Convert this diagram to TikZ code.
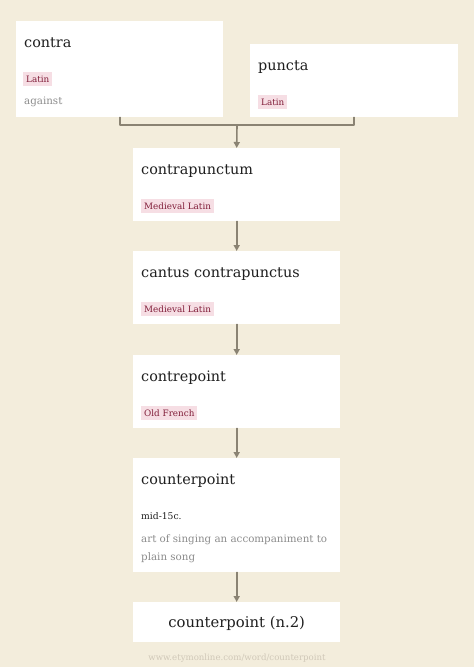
\documentclass[tikz,border=0pt]{standalone}
\usepackage{fontspec}
\setmainfont{DejaVu Serif}
\usetikzlibrary{arrows.meta}
\definecolor{bgcream}{RGB}{243,237,220}
\definecolor{tagpink}{RGB}{246,222,228}
\definecolor{tagred}{RGB}{128,28,56}
\definecolor{glossgray}{RGB}{140,140,140}
\definecolor{linkbrown}{RGB}{138,131,115}
\definecolor{urlgray}{RGB}{208,200,184}
\begin{document}
\begin{tikzpicture}[x=1pt,y=-1pt,line cap=round,line join=round,
    box/.style={fill=white,draw=none,anchor=north west,minimum width=207pt,inner sep=0pt},
    word/.style={anchor=base west,inner sep=0pt,text=black!88,font=\fontsize{14.4}{17}\selectfont},
    lang/.style={anchor=north west,fill=tagpink,text=tagred,inner xsep=3pt,inner ysep=0pt,
        text height=10pt,text depth=3.5pt,font=\fontsize{8.8}{10}\selectfont},
    gloss/.style={anchor=base west,inner sep=0pt,text=glossgray,align=left,
        font=\fontsize{10.3}{18}\selectfont},
    link/.style={linkbrown,line width=1.6pt},
    arr/.style={link,-{Triangle[width=6pt,length=6pt]}}]
    \def\tx{8}
    \def\wy{26}
    \def\ly{51}
    % background
    \fill[bgcream] (0,0) rectangle (474,667);
    \useasboundingbox (0,0) rectangle (474,667);
    % boxes
    \node[box,minimum height=96pt] (contra) at (16,21) {};
    \node[box,minimum width=208pt,minimum height=73pt] (puncta) at (250,44) {};
    \node[box,minimum height=73pt] (contrapunctum) at (133,148) {};
    \node[box,minimum height=73pt] (cantus) at (133,251) {};
    \node[box,minimum height=73pt] (contrepoint) at (133,355) {};
    \node[box,minimum height=114pt] (counterpoint) at (133,458) {};
    \node[box,minimum height=40pt] (counterpointn) at (133,602) {};
    % contra
    \node[word] (contraword) at ([shift={(\tx,\wy)}]contra.north west) {contra};
    \node[lang] (contralang) at ([shift={(7,\ly)}]contra.north west) {Latin};
    \node[gloss] (contragloss) at ([shift={(\tx,83)}]contra.north west) {against};
    % puncta
    \node[word] (punctaword) at ([shift={(\tx,\wy)}]puncta.north west) {puncta};
    \node[lang] (punctalang) at ([shift={(\tx,\ly)}]puncta.north west) {Latin};
    % contrapunctum
    \node[word] (contrapunctumword) at ([shift={(\tx,\wy)}]contrapunctum.north west) {contrapunctum};
    \node[lang] (contrapunctumlang) at ([shift={(\tx,\ly)}]contrapunctum.north west) {Medieval Latin};
    % cantus contrapunctus
    \node[word] (cantusword) at ([shift={(\tx,\wy)}]cantus.north west) {cantus contrapunctus};
    \node[lang] (cantuslang) at ([shift={(\tx,\ly)}]cantus.north west) {Medieval Latin};
    % contrepoint
    \node[word] (contrepointword) at ([shift={(\tx,\wy)}]contrepoint.north west) {contrepoint};
    \node[lang] (contrepointlang) at ([shift={(\tx,\ly)}]contrepoint.north west) {Old French};
    % counterpoint
    \node[word] (counterpointword) at ([shift={(\tx,\wy)}]counterpoint.north west) {counterpoint};
    \node[word,font=\fontsize{9.2}{11}\selectfont] (counterpointdate) at ([shift={(\tx,61)}]counterpoint.north west) {mid-15c.};
    \node[gloss] (counterpointgloss) at ([shift={(\tx,102)}]counterpoint.north west) {art of singing an accompaniment to\\plain song};
    % counterpoint (n.2)
    \node[word,anchor=base,font=\fontsize{14.8}{17}\selectfont] (counterpointnword) at ([yshift=-25pt]counterpointn.north) {counterpoint (n.2)};
    % links
    \coordinate (fork) at (237,125);
    \draw[link] (contra.south) |- (fork) -| (puncta.south);
    \draw[arr] (fork) -- (contrapunctum.north);
    \draw[arr] (contrapunctum.south) -- (cantus.north);
    \draw[arr] (cantus.south) -- (contrepoint.north);
    \draw[arr] (contrepoint.south) -- (counterpoint.north);
    \draw[arr] (counterpoint.south) -- (counterpointn.north);
    % url
    \node[anchor=base,inner sep=0pt,text=urlgray,font=\fontsize{8.6}{10}\selectfont] (weblink) at (237,660) {www.etymonline.com/word/counterpoint};
\end{tikzpicture}
\end{document}
